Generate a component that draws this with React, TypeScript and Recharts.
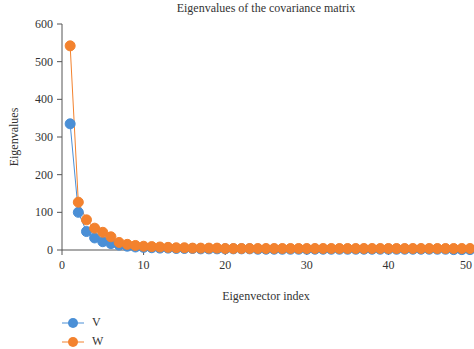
import React from 'react';
import { LineChart, Line, XAxis, YAxis, Label } from 'recharts';

const indices = Array.from({ length: 50 }, (_, i) => i + 1);
const seriesV = [
  335, 100, 49, 32, 22, 17, 13, 10, 8, 7,
  6, 5, 5, 4, 4, 4, 3, 3, 3, 3,
  3, 3, 3, 2, 2, 2, 2, 2, 2, 2,
  2, 2, 2, 2, 2, 2, 2, 2, 2, 2,
  2, 2, 2, 2, 2, 2, 2, 1, 1, 1,
];
const seriesW = [
  542, 127, 80, 58, 47, 35, 20, 15, 12, 10,
  9, 8, 7, 6, 6, 5, 5, 5, 5, 4,
  4, 4, 4, 4, 4, 4, 4, 4, 4, 4,
  4, 4, 4, 4, 4, 4, 4, 4, 4, 4,
  4, 4, 4, 4, 4, 4, 4, 4, 4, 4,
];
const xTicks = [0, 10, 20, 30, 40, 50];
const yTicks = [0, 100, 200, 300, 400, 500, 600];

const BLUE = '#4A8FD6';
const ORANGE = '#F3822E';
const FONT = '"Liberation Serif", "DejaVu Serif", serif';

const data = indices.map((idx, i) => ({ idx, V: seriesV[i], W: seriesW[i] }));

const legendItems = [
  { name: 'V', color: BLUE },
  { name: 'W', color: ORANGE },
];

// custom ticks so the serif font actually sticks
const XTick = (props: any) => {
  const { x, y, payload } = props;
  return (
    <text x={x} y={y + 12} textAnchor="middle" fontSize={12} fill="#333" fontFamily={FONT}>
      {payload.value}
    </text>
  );
};

const YTick = (props: any) => {
  const { x, y, payload } = props;
  return (
    <text x={x - 2} y={y + 4} textAnchor="end" fontSize={12} fill="#333" fontFamily={FONT}>
      {payload.value}
    </text>
  );
};

const App: React.FC = () => {
  return (
    <div style={{ position: 'absolute', left: 0, top: 0, width: 474, height: 349, background: '#fff', fontFamily: FONT }}>
      <LineChart width={474} height={349} data={data} margin={{ top: 24, right: 4, left: 0, bottom: 69 }}>
        <text x={266} y={12} textAnchor="middle" fontSize={12} fill="#333" fontFamily={FONT}>
          Eigenvalues of the covariance matrix
        </text>
        <XAxis
          dataKey="idx"
          type="number"
          domain={[0, 50]}
          ticks={xTicks}
          height={30}
          stroke="#555"
          tickSize={5}
          tick={<XTick />}
        >
          <Label value="Eigenvector index" position="insideBottom" offset={-20} fill="#333" fontSize={12} fontFamily={FONT} style={{ fontFamily: FONT }} />
        </XAxis>
        <YAxis
          type="number"
          domain={[0, 600]}
          ticks={yTicks}
          width={62}
          stroke="#555"
          tickSize={5}
          tick={<YTick />}
        >
          <Label value="Eigenvalues" angle={-90} position="insideLeft" offset={14} fill="#333" fontSize={12} fontFamily={FONT} style={{ textAnchor: 'middle', fontFamily: FONT }} />
        </YAxis>
        <Line dataKey="V" stroke={BLUE} strokeWidth={1} dot={{ r: 5, fill: BLUE, stroke: BLUE }} isAnimationActive={false} />
        <Line dataKey="W" stroke={ORANGE} strokeWidth={1} dot={{ r: 5, fill: ORANGE, stroke: ORANGE }} isAnimationActive={false} />
      </LineChart>
      <div style={{ position: 'absolute', left: 62, top: 313 }}>
        {legendItems.map((item) => (
          <div key={item.name} style={{ display: 'flex', alignItems: 'center', height: 19, fontSize: 12, color: '#333' }}>
            <svg width={22} height={12}>
              <line x1={0} y1={6} x2={22} y2={6} stroke={item.color} strokeWidth={1} />
              <circle cx={11} cy={6} r={5} fill={item.color} />
            </svg>
            <span style={{ marginLeft: 8 }}>{item.name}</span>
          </div>
        ))}
      </div>
    </div>
  );
};

export default App;
